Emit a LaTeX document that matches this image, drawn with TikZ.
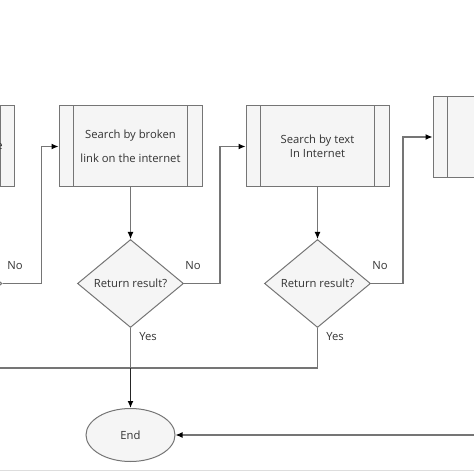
\documentclass[tikz,border=0pt]{standalone}
\usepackage{fontspec}
\setmainfont{Open Sans}
\usetikzlibrary{shapes.geometric,arrows.meta}
\definecolor{edge}{HTML}{757575}
\definecolor{boxfill}{HTML}{F5F5F5}
\definecolor{txt}{HTML}{333333}
\definecolor{frameline}{HTML}{DDDDDD}
\begin{document}
\begin{tikzpicture}[x=1bp,y=-1bp,
  font=\fontsize{11.3}{14.3}\selectfont, text=txt,
  procbox/.style={rectangle, draw=edge, fill=boxfill, line width=1bp,
    minimum width=143bp, minimum height=81bp, inner sep=0pt, align=center,
    path picture={\draw[edge, line width=1bp]
      ([xshift=14.5bp]path picture bounding box.north west) -- ([xshift=14.5bp]path picture bounding box.south west)
      ([xshift=-14.5bp]path picture bounding box.north east) -- ([xshift=-14.5bp]path picture bounding box.south east);}},
  decision/.style={diamond, draw=edge, fill=boxfill, line width=1bp, aspect=1.2,
    minimum width=106bp, minimum height=88bp, inner sep=0pt},
  endnode/.style={ellipse, draw=edge, fill=boxfill, line width=1bp,
    minimum width=89bp, minimum height=53bp, inner sep=0pt},
  conn/.style={draw=edge, line width=1.1bp, -{Latex[length=7bp,width=6bp,color=black]}},
  plain/.style={draw=edge, line width=1.1bp},
  strong/.style={draw=black!85, line width=1.4bp, -{Latex[length=7bp,width=6bp,color=black]}},
  lbl/.style={inner sep=0pt}
]
\useasboundingbox (0,0) rectangle (474,474);
\clip (0,0) rectangle (474,474);

% nodes
\node[procbox] (b1) at (-57,146.5) {};
\node[lbl, anchor=east] (b1e) at (3,146) {e};
\node[decision] (d0) at (-51,283.5) {};
\node[procbox] (b2) at (130.5,146.5) {Search by broken\\[9.7bp]link on the internet};
\node[decision] (d1) at (130.5,283.5) {Return result?};
\node[procbox] (b3) at (317.5,146.5) {Search by text\\In Internet};
\node[decision] (d2) at (317.5,283.5) {Return result?};
\node[procbox] (b4) at (504.5,137) {};
\node[endnode] (e) at (130.5,435) {End};

\coordinate (junction) at (130.5,368);
\coordinate (leftout) at (-10,368);
\coordinate (rightin) at (484,435);

% connectors
\draw[conn] (d0.east) -- ++(39,0) |- (b2.west);
\draw[conn] (b2.south) -- (d1.north);
\draw[conn] (d1.east) -- ++(36,0) |- (b3.west);
\draw[conn] (b3.south) -- (d2.north);
\draw[conn] (d2.east) -- ++(32,0) |- (b4.west);
\draw[plain] (d2.south) |- (leftout);
\draw[plain] (d1.south) -- (junction);
\draw[strong] (junction) -- (e.north);
\draw[conn] (rightin) -- (e.east);

% labels
\node[lbl] (no0) at (15,266) {No};
\node[lbl] (no1) at (193,266) {No};
\node[lbl] (no2) at (380,266) {No};
\node[lbl] (yes1) at (148,337) {Yes};
\node[lbl] (yes2) at (335,337) {Yes};

% frame line at the bottom
\draw[frameline, line width=0.8bp] (0,470) -- (474,470);
\end{tikzpicture}
\end{document}
